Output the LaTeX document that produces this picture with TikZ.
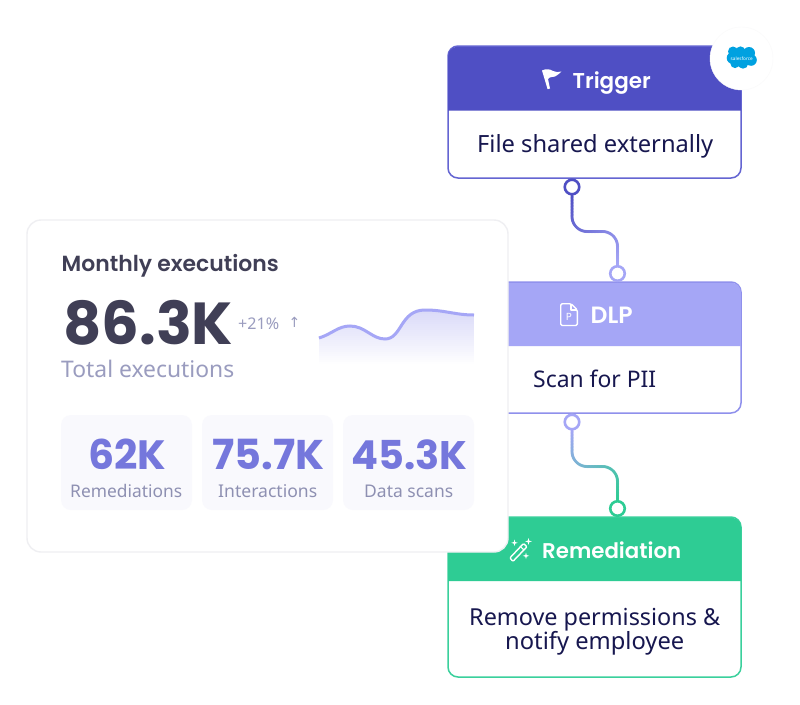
\documentclass[tikz,border=0pt]{standalone}
\usepackage{fontspec}
\usepackage{graphicx}
\setmainfont{Noto Sans}
\newfontfamily\semifont[BoldFont={Poppins SemiBold}]{Poppins}
\newfontfamily\numfont{Poppins}
\newfontfamily\symfont{DejaVu Sans}
\usetikzlibrary{decorations.markings}
\definecolor{triggerC}{HTML}{4F4FC4}
\definecolor{triggerB}{HTML}{6465D2}
\definecolor{dlpC}{HTML}{A5A6F6}
\definecolor{dlpB}{HTML}{8F90EC}
\definecolor{remC}{HTML}{2ECC94}
\definecolor{remB}{HTML}{3AD09C}
\definecolor{navy}{HTML}{17174F}
\definecolor{titleC}{HTML}{403F56}
\definecolor{mutedC}{HTML}{9A9CBF}
\definecolor{labelC}{HTML}{8E90B2}
\definecolor{numC}{HTML}{7577DC}
\definecolor{tileC}{HTML}{F9F9FD}
\definecolor{edgeC}{HTML}{EFEFF2}
\definecolor{sfC}{HTML}{00A1E0}
\definecolor{shadeC}{HTML}{DADAF8}
\newcommand{\fitw}[2]{\resizebox{#1pt}{!}{#2}}
\newcommand{\softshadow}[6]{% x1 y1 x2 y2 radius strength
  \foreach \i in {1,...,12}{
    \draw[black,opacity=#6,line width=\i*3.2pt,rounded corners=#5pt,line join=round]
      (#1,#2+6) rectangle (#3,#4+6);
  }}
\tikzset{
  x=1pt,y=-1pt,
  flowbox/.style={rectangle,rounded corners=10pt,fill=white,line width=1.5pt,inner sep=0pt,minimum width=293pt},
  lbl/.style={inner sep=0pt,anchor=base west},
  port/.style={circle,fill=white,line width=2.6pt,minimum size=14.5pt,inner sep=0pt},
  tile/.style={rectangle,rounded corners=10pt,fill=tileC,minimum width=131pt,minimum height=95pt,inner sep=0pt},
  card/.style={rectangle,rounded corners=14pt,fill=white,draw=edgeC,line width=1.4pt,minimum width=481pt,minimum height=332pt,inner sep=0pt},
  gradline/.style n args={2}{
    decoration={markings,
      mark=between positions 0 and 1 step 0.6pt with {
        \pgfkeysgetvalue{/pgf/decoration/mark info/distance from start}{\dd}
        \pgfmathsetmacro{\pct}{min(100,max(0,100*\dd/\pgfdecoratedpathlength))}
        \colorlet{stepC}{#2!\pct!#1}
        \fill[stepC] (0,0) circle (1.5pt);
      }},
    decorate}
}
\begin{document}
\begin{tikzpicture}
\useasboundingbox (0,0) rectangle (800,704);
\fill[white] (0,0) rectangle (800,704);

% shadows of the flow boxes
\softshadow{448}{47}{741}{178}{10}{0.0009}
\softshadow{448}{283}{741}{413}{10}{0.0009}
\softshadow{448}{518}{741}{677}{10}{0.0009}

% flow boxes
\node[flowbox,draw=triggerB,minimum height=132pt] (trig) at (594.5,112) {};
\fill[triggerC,rounded corners=9.2pt] (448.2,110.5) [sharp corners] -- (448.2,80) [rounded corners=9.2pt] -- (448.2,46.8) -- (740.8,46.8) -- (740.8,80) [sharp corners] -- (740.8,110.5) -- cycle;
\node[flowbox,draw=dlpB,minimum height=131pt] (dlp) at (594.5,347.5) {};
\fill[dlpC] (448.2,346) -- (448.2,300) [rounded corners=9.2pt] -- (448.2,282.8) -- (740.8,282.8) -- (740.8,310) [sharp corners] -- (740.8,346) -- cycle;
\node[flowbox,draw=remB,minimum height=160pt] (rem) at (594.5,597) {};
\fill[remC] (448.2,581) -- (448.2,540) [rounded corners=9.2pt] -- (448.2,517.8) -- (740.8,517.8) -- (740.8,545) [sharp corners] -- (740.8,581) -- cycle;

% ports and connectors
\node[port,draw=triggerC] (p1) at (572,187) {};
\node[port,draw=dlpC] (p2) at (617.5,273.5) {};
\node[port,draw=dlpC] (p3) at (572,422) {};
\node[port,draw=remC] (p4) at (617.5,508.5) {};
\coordinate (m1) at (595,231.5);
\coordinate (m2) at (595,466.5);
\path[gradline={triggerC}{dlpC},rounded corners=15pt] (p1.south) -- (p1.south |- m1) -- (p2.north |- m1) -- (p2.north);
\path[gradline={dlpC}{remC},rounded corners=15pt] (p3.south) -- (p3.south |- m2) -- (p4.north |- m2) -- (p4.north);

% flow text
\node[lbl,white] (trigT) at (572.5,88) {\fitw{78}{\semifont\bfseries Trigger}};
\node[lbl,navy] (trigD) at (477,152) {\fitw{236}{File shared externally}};
\node[lbl,white] (dlpT) at (590.5,323) {\fitw{42}{\semifont\bfseries DLP}};
\node[lbl,navy] (dlpD) at (533,387) {\fitw{123}{Scan for PII}};
\node[lbl,white] (remT) at (542,558) {\fitw{139}{\semifont\bfseries Remediation}};
\node[lbl,navy] (remD1) at (469,625) {\fitw{251}{Remove permissions \&}};
\node[lbl,navy] (remD2) at (505,649) {\fitw{179}{notify employee}};

% flag icon
\fill[white] (542,70.5) .. controls (546,68.5) and (550,69) .. (553,71) .. controls (555.5,72.3) and (558.5,72.4) .. (561.5,71.5) .. controls (558,74.5) and (556,77) .. (552,77) .. controls (550.5,77) and (549,77.6) .. (548,79) -- (550,88.5) -- (547.6,89.2) -- cycle;

% document icon
\draw[white,line width=1.4pt,line join=round,rounded corners=1.5pt] (560.7,303.7) -- (571,303.7) -- (577.3,310) -- (577.3,325.5) -- (560.7,325.5) -- cycle;
\draw[white,line width=1.2pt,line join=round] (571,304) -- (571,310) -- (577,310);
\node[inner sep=0pt,white,font=\fontsize{10}{10}\selectfont] (docP) at (569,317) {P};

% wand icon
\draw[white,line width=1.4pt,line join=round,rounded corners=1pt] (509.8,558) -- (523.5,543.5) -- (527,546.7) -- (513,561.3) -- cycle;
\draw[white,line width=1.1pt] (520.5,546.6) -- (524,550);
\fill[white] (514.5,539.5) -- (515.2,542) -- (517.7,542.8) -- (515.2,543.6) -- (514.5,546) -- (513.8,543.6) -- (511.3,542.8) -- (513.8,542) -- cycle;
\fill[white] (528.5,538) -- (529.2,540.6) -- (531.8,541.4) -- (529.2,542.2) -- (528.5,544.8) -- (527.8,542.2) -- (525.2,541.4) -- (527.8,540.6) -- cycle;
\fill[white] (526,552.5) -- (526.7,555) -- (529.2,555.8) -- (526.7,556.6) -- (526,559) -- (525.3,556.6) -- (522.8,555.8) -- (525.3,555) -- cycle;

% salesforce badge
\foreach \i in {1,...,8}{\draw[black,opacity=0.0015,line width=\i*2.5pt] (741.5,59) circle (31.5pt);}
\node[circle,fill=white,draw=edgeC!40,line width=0.4pt,minimum size=63pt,inner sep=0pt] (sfbadge) at (741.5,58.5) {};
\fill[sfC] (733,51.5) circle (5pt) (740.5,51) circle (4.6pt) (749,53) circle (6pt) (751,60) circle (5.8pt) (743,63.5) circle (5.2pt) (735,63.5) circle (4.6pt) (732.5,58) circle (5.8pt) (742,57) circle (8pt);
\node[inner sep=0pt,white] (sflogo) at (741.7,58.5) {\fitw{22}{salesforce}};

% metrics card
\softshadow{29}{222}{507}{551}{14}{0.0012}
\node[card] (mcard) at (267.5,386) {};
\node[lbl,titleC] (mtitle) at (61.5,271) {\fitw{217}{\semifont\bfseries Monthly executions}};
\node[lbl,titleC] (mbig) at (63,344) {\fitw{170}{\numfont\bfseries 86.3K}};
\node[lbl,mutedC] (mpct) at (238,329) {\fitw{41}{+21\%}};
\node[lbl,mutedC] (marrow) at (288.5,327) {\fontsize{14}{14}\symfont ↑};
\node[lbl,mutedC] (mtotal) at (61,377) {\fitw{173}{Total executions}};

% sparkline
\begin{scope}
\clip (319,338) .. controls (332,334) and (338,326) .. (350,326) .. controls (365,326) and (372,339) .. (385,339) .. controls (402,339) and (400,310) .. (425,310) .. controls (445,310) and (455,315) .. (474,315) -- (474,364) -- (319,364) -- cycle;
\foreach \yy in {310,312,...,364}{
  \pgfmathsetmacro{\pct}{100*(364-\yy)/54}
  \colorlet{stripC}{shadeC!\pct!white}
  \fill[stripC] (319,\yy) rectangle (474,364);
}
\end{scope}
\draw[dlpC,line width=3pt] (319,338) .. controls (332,334) and (338,326) .. (350,326) .. controls (365,326) and (372,339) .. (385,339) .. controls (402,339) and (400,310) .. (425,310) .. controls (445,310) and (455,315) .. (474,315);

% tiles
\node[tile] (t1) at (126.5,462.5) {};
\node[tile] (t2) at (267.5,462.5) {};
\node[tile] (t3) at (408.5,462.5) {};
\node[lbl,numC] (n1) at (88,469) {\fitw{78}{\numfont\bfseries 62K}};
\node[lbl,numC] (n2) at (212,469) {\fitw{112}{\numfont\bfseries 75.7K}};
\node[lbl,numC] (n3) at (351,469) {\fitw{116}{\numfont\bfseries 45.3K}};
\node[lbl,labelC] (l1) at (70,497) {\fitw{112}{Remediations}};
\node[lbl,labelC] (l2) at (218,497) {\fitw{99}{Interactions}};
\node[lbl,labelC] (l3) at (364,497) {\fitw{89}{Data scans}};
\end{tikzpicture}
\end{document}
